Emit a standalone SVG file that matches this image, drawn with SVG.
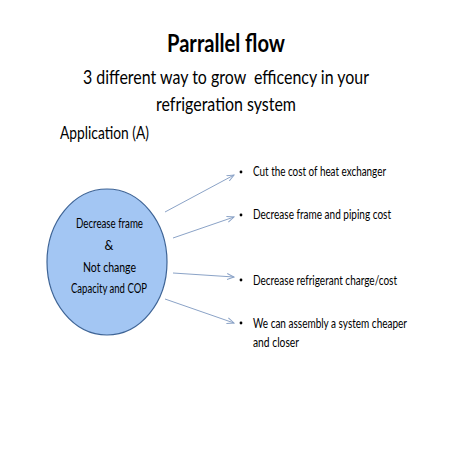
<svg xmlns="http://www.w3.org/2000/svg" width="452" height="452" viewBox="0 0 452 452">
<style>
text{font-family:Lato,"Open Sans","Liberation Sans",sans-serif;fill:#000;white-space:pre}
.t{font-size:24px;font-weight:bold}
.s{font-size:20px}
.a{font-size:17px}
.n{font-size:12.5px}
.b{font-size:12.5px}
.c{stroke:#8BA3C7;stroke-width:1;fill:none;marker-end:url(#ah)}
</style>
<defs>
<marker id="ah" markerWidth="8" markerHeight="8" refX="7" refY="4" orient="auto" markerUnits="userSpaceOnUse">
<path d="M0,1 L7,4 L0,7" fill="none" stroke="#8BA3C7" stroke-width="1"/>
</marker>
</defs>
<rect width="452" height="452" fill="#fff"/>
<g id="title">
<text class="t" x="167" y="52" textLength="118" lengthAdjust="spacingAndGlyphs">Parrallel flow</text>
<text class="s" x="83" y="84" textLength="286" lengthAdjust="spacingAndGlyphs">3 different way to grow  efficency in your</text>
<text class="s" x="156" y="111" textLength="140" lengthAdjust="spacingAndGlyphs">refrigeration system</text>
<text class="a" x="60" y="139" textLength="89" lengthAdjust="spacingAndGlyphs">Application (A)</text>
</g>
<g id="center">
<ellipse cx="107" cy="262" rx="60" ry="73" fill="#A3C6F3" stroke="#3E6496" stroke-width="1.2"/>
<text class="n" x="76" y="228" textLength="67" lengthAdjust="spacingAndGlyphs">Decrease frame</text>
<text class="n" x="109" y="250" text-anchor="middle">&amp;</text>
<text class="n" x="83" y="272" textLength="53" lengthAdjust="spacingAndGlyphs">Not change</text>
<text class="n" x="71" y="293" textLength="76" lengthAdjust="spacingAndGlyphs">Capacity and COP</text>
</g>
<g id="connectors">
<line class="c" x1="165" y1="212" x2="234" y2="175"/>
<line class="c" x1="173" y1="238" x2="234" y2="217"/>
<line class="c" x1="173" y1="273" x2="234" y2="277"/>
<line class="c" x1="165" y1="299" x2="234" y2="323"/>
</g>
<g id="item1">
<circle cx="241" cy="172" r="1.4" fill="#000"/>
<text class="b" x="253" y="176" textLength="133" lengthAdjust="spacingAndGlyphs">Cut the cost of heat exchanger</text>
</g>
<g id="item2">
<circle cx="241" cy="215" r="1.4" fill="#000"/>
<text class="b" x="253" y="219" textLength="138" lengthAdjust="spacingAndGlyphs">Decrease frame and piping cost</text>
</g>
<g id="item3">
<circle cx="241" cy="280" r="1.4" fill="#000"/>
<text class="b" x="253" y="285" textLength="144" lengthAdjust="spacingAndGlyphs">Decrease refrigerant charge/cost</text>
</g>
<g id="item4">
<circle cx="241" cy="323" r="1.4" fill="#000"/>
<text class="b" x="253" y="328" textLength="154" lengthAdjust="spacingAndGlyphs">We can assembly a system cheaper</text>
<text class="b" x="253" y="347" textLength="46" lengthAdjust="spacingAndGlyphs">and closer</text>
</g>
</svg>
